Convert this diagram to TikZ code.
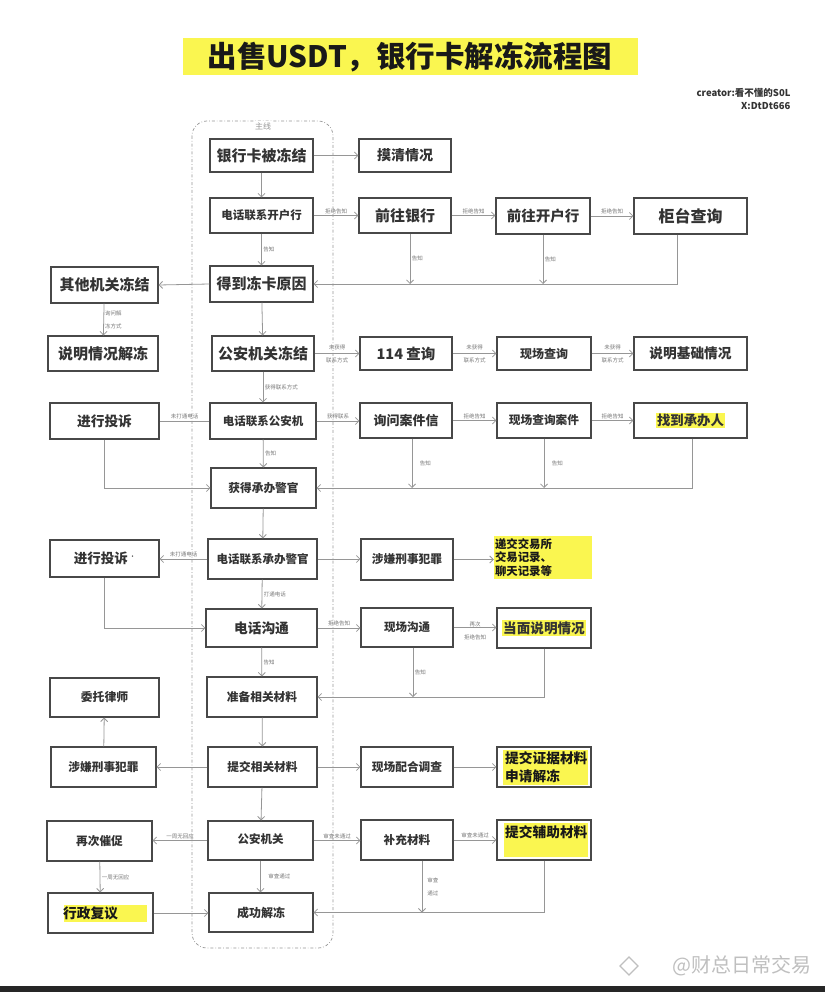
\documentclass[tikz,border=0pt]{standalone}
\usepackage{fontspec}
\newfontfamily\cjk{Noto Sans CJK SC}
\usetikzlibrary{arrows.meta}
\definecolor{hl}{RGB}{250,246,80}
\definecolor{bc}{RGB}{72,72,72}
\definecolor{lc}{RGB}{150,150,150}
\definecolor{tc}{RGB}{120,120,120}
\setlength{\fboxsep}{1pt}
\newcommand\fsz[1]{\fontsize{#1}{#1}\selectfont}
\tikzset{
 box/.style={draw=bc, line width=1.1pt, inner sep=0pt, font=\cjk\bfseries, text=black!80},
 arr/.style={draw=lc, line width=0.8pt, -{Straight Barb[length=3.5pt,width=7pt]}},
 ln/.style={draw=lc, line width=0.8pt},
 lab/.style={font=\cjk\fontsize{5.5}{6}\selectfont, text=tc, inner sep=1.5pt, align=center},
 labtwo/.style={font=\cjk\fontsize{5.5}{13}\selectfont, text=tc, inner sep=1pt, align=center},
}
\newcommand\bxx[6]{\node[box, minimum width=#4pt, minimum height=#5pt] (#1) at (#2,#3) {#6};}
\begin{document}
\begin{tikzpicture}[x=1pt,y=-1pt]
\useasboundingbox (0,0) rectangle (825,992);
% title
\fill[hl] (183,38) rectangle (638,75);
\node[font=\cjk\bfseries\fsz{29.5}, text=black!90] (title) at (410,57) {出售USDT，银行卡解冻流程图};
\node[anchor=east, font=\cjk\bfseries\fontsize{9.5}{13.5}\selectfont, align=right, text=black!80] (creator) at (794,99) {creator:看不懂的S0L\\X:DtDt666};
% main line frame
\draw[lc, line width=0.7pt, dash dot, rounded corners=15pt] (192,121) rectangle (333,948);
\node[font=\cjk\fsz{8}, text=lc, fill=white, inner sep=1pt] (mainlab) at (263,126) {主线};
% main column
\bxx{b1}{261.5}{155.5}{103}{33}{\fsz{15}银行卡被冻结}
\bxx{b2}{261.5}{215.5}{103}{35}{\fsz{11.5}电话联系开户行}
\bxx{b3}{261.5}{284}{103}{36}{\fsz{15}得到冻卡原因}
\bxx{b4}{263}{353.5}{102}{35}{\fsz{15}公安机关冻结}
\bxx{b5}{263}{421}{106}{36}{\fsz{11.5}电话联系公安机}
\bxx{b6}{263.5}{488}{105}{40}{\fsz{11.7}获得承办警官}
\bxx{b7}{262.5}{559}{109}{40}{\fsz{11.5}电话联系承办警官}
\bxx{b8}{261.5}{628}{111}{38}{\fsz{13.7}电话沟通}
\bxx{b9}{262}{697}{110}{40}{\fsz{11.7}准备相关材料}
\bxx{b10}{262.5}{767}{109}{40}{\fsz{11.7}提交相关材料}
\bxx{b11}{260.5}{840.5}{105}{39}{\raisebox{3pt}{\fsz{11.5}公安机关}}
\bxx{b12}{261}{912.5}{104}{39}{\fsz{12}成功解冻}
% left column
\bxx{l1}{104.5}{285}{107}{36}{\fsz{15}其他机关冻结}
\bxx{l2}{103}{353.5}{110}{35}{\fsz{15}说明情况解冻}
\bxx{l3}{104.5}{421}{109}{36}{\fsz{13.7}进行投诉}
\bxx{l4}{104.5}{558.5}{109}{37}{\fsz{13.5}进行投诉\,\raisebox{5pt}{\fsz{5}·}}
\bxx{l5}{104.5}{697.5}{109}{39}{\fsz{11.8}委托律师}
\bxx{l6}{103.5}{767}{105}{40}{\fsz{11.7}涉嫌刑事犯罪}
\bxx{l7}{99.5}{841}{105}{40}{\fsz{11.7}再次催促}
\bxx{l8}{100.5}{913}{105}{40}{}
\fill[hl] (64,905) rectangle (147,922);
\node[anchor=west, font=\cjk\bfseries\fsz{13.7}, inner sep=0pt, text=black!90] (l8t) at (63,913.5) {行政复议};
% column 3
\bxx{c1}{405}{155.5}{92}{33}{\fsz{14}摸清情况}
\bxx{c2}{405}{215.5}{92}{35}{\fsz{15}前往银行}
\bxx{c3}{406}{353.5}{92}{33}{\fsz{14.5}114 查询}
\bxx{c4}{406}{420.5}{92}{35}{\fsz{13}询问案件信}
\bxx{c5}{407}{559.5}{92}{41}{\fsz{11.7}涉嫌刑事犯罪}
\bxx{c6}{407}{627.5}{92}{39}{\fsz{11.5}现场沟通}
\bxx{c7}{407}{767}{92}{40}{\fsz{11.7}现场配合调查}
\bxx{c8}{407}{840}{92}{40}{\fsz{11.7}补充材料}
% column 4
\bxx{d1}{543}{216}{94}{36}{\fsz{14.5}前往开户行}
\bxx{d2}{544}{353.5}{94}{33}{\fsz{12}现场查询}
\bxx{d3}{544}{420.5}{94}{35}{\fsz{11.7}现场查询案件}
\node[fill=hl, minimum width=98pt, minimum height=43pt, text width=96pt, align=left, inner sep=1pt, font=\cjk\bfseries\fontsize{11.4}{13.5}\selectfont, text=black!90] (d4) at (543,557.5) {递交交易所\\交易记录、\\聊天记录等};
\bxx{d5}{544}{628}{94}{40}{\fsz{13.6}\colorbox{hl}{当面说明情况}}
\bxx{d6}{544}{767}{94}{40}{}
\fill[hl] (503,750) rectangle (588,785);
\node[anchor=west, align=left, font=\cjk\bfseries\fontsize{13.7}{18}\selectfont, inner sep=0pt, text=black!90] (d6t) at (505,767) {提交证据材料\\申请解冻};
\bxx{d7}{544}{840}{94}{40}{}
\fill[hl] (504,823) rectangle (588,857);
\node[anchor=west, font=\cjk\bfseries\fsz{13.7}, inner sep=0pt, text=black!90] (d7t) at (505,832) {提交辅助材料};
% column 5
\bxx{e1}{690.5}{216}{113}{36}{\fsz{16}柜台查询}
\bxx{e2}{690.5}{353.5}{113}{33}{\fsz{13.7}说明基础情况}
\bxx{e3}{690.5}{420.5}{113}{35}{\fsz{13.4}\colorbox{hl}{找到承办人}}
% ---- connectors
\draw[arr] (b1.east) -- (c1.west);
\draw[arr] (b1) -- (b2);
\draw[arr] (b2.east) -- (c2.west) node[midway, above, lab] {拒绝告知};
\draw[arr] (c2.east) -- (c2.east -| d1.west) node[midway, above, lab] {拒绝告知};
\draw[arr] (d1.east) -- (e1.west) node[midway, above, lab] {拒绝告知};
\draw[arr] (b2) -- (b3) node[midway, right, lab] {告知};
\draw[arr] ([xshift=5pt]c2.south) -- ([xshift=5pt]c2.south |- b3.east) node[midway, right, lab] {告知};
\draw[arr] (d1.south) -- (d1.south |- b3.east) node[midway, right, lab] {告知};
\coordinate (k1) at (677,284);
\draw[arr] (e1.south -| k1) |- (b3.east);
\draw[arr] (b3.west) -- (l1.east);
\draw[arr] (l1) -- (l2) node[midway, right, labtwo] {询问解\\冻方式};
\draw[arr] (b3) -- (b4);
\draw[arr] (b4.east) -- (b4.east -| c3.west) node[midway, labtwo] {未获得\\联系方式};
\draw[arr] (c3.east) -- (d2.west) node[midway, labtwo] {未获得\\联系方式};
\draw[arr] (d2.east) -- (e2.west) node[midway, labtwo] {未获得\\联系方式};
\draw[arr] (b4) -- (b5) node[midway, right, lab] {获得联系方式};
\draw[ln] (b5.west) -- (l3.east) node[midway, above, lab] {未打通电话};
\draw[arr] (b5.east) -- (b5.east -| c4.west) node[midway, above, lab] {获得联系};
\draw[arr] (c4.east) -- (d3.west) node[midway, above, lab] {拒绝告知};
\draw[arr] (d3.east) -- (e3.west) node[midway, above, lab] {拒绝告知};
\draw[arr] (b5) -- (b6) node[midway, right, lab] {告知};
\draw[arr] ([xshift=6pt]c4.south) -- ([xshift=6pt]c4.south |- b6.east) node[midway, right=6pt, lab] {告知};
\draw[arr] (d3.south) -- (d3.south |- b6.east) node[midway, right=6pt, lab] {告知};
\draw[arr] (l3.south) |- (b6.west);
\draw[arr] ([xshift=1.5pt]e3.south) |- (b6.east);
\draw[arr] (b6) -- (b7);
\draw[arr] (b7.west) -- (b7.west -| l4.east) node[midway, above, lab] {未打通电话};
\draw[arr] (b7.east) -- (b7.east -| c5.west);
\draw[arr] (c5.east) -- (c5.east -| d4.west);
\draw[arr] (b7) -- (b8) node[midway, right, lab] {打通电话};
\draw[arr] (l4.south) |- (b8.west);
\draw[arr] (b8.east) -- (b8.east -| c6.west) node[midway, above, lab] {拒绝告知};
\draw[arr] (c6.east) -- (c6.east -| d5.west) node[midway, labtwo, yshift=-3pt] {再次\\拒绝告知};
\draw[arr] (b8) -- (b9) node[midway, right, lab] {告知};
\draw[arr] ([xshift=6pt]c6.south) -- ([xshift=6pt]c6.south |- b9.east) node[midway, right, lab] {告知};
\draw[arr] (d5.south) |- (b9.east);
\draw[arr] (b9) -- (b10);
\draw[arr] (b10.west) -- (l6.east);
\draw[arr] (l6) -- (l5);
\draw[arr] (b10.east) -- (c7.west);
\draw[arr] (c7.east) -- (d6.west);
\draw[arr] (b10) -- (b11);
\draw[arr] (b11.west) -- (b11.west -| l7.east) node[midway, above, lab] {一周无回应};
\draw[arr] (l7) -- (l8) node[midway, right, lab] {一周无回应};
\draw[arr] (b11.east) -- (b11.east -| c8.west) node[midway, above, lab] {审查未通过};
\draw[arr] (c8.east) -- (d7.west) node[midway, above, lab] {审查未通过};
\draw[arr] (b11) -- (b11 |- b12.north) node[midway, right=6pt, lab] {审查通过};
\draw[arr] ([xshift=15pt]c8.south) -- ([xshift=15pt]c8.south |- b12.east) node[midway, right=4pt, labtwo] {审查\\通过};
\draw[arr] (d7.south) |- (b12.east);
\draw[arr] (l8.east) -- (l8.east -| b12.west);
% watermark and bottom strip
\node[font=\cjk\fsz{20}, text=black!25, anchor=east] (wm) at (815,966) {@财总日常交易};
\draw[black!25, line width=1.2pt] (620,966) -- (629,957) -- (638,966) -- (629,975) -- cycle;
\fill[black!85] (0,986) rectangle (825,992);
\end{tikzpicture}
\end{document}
